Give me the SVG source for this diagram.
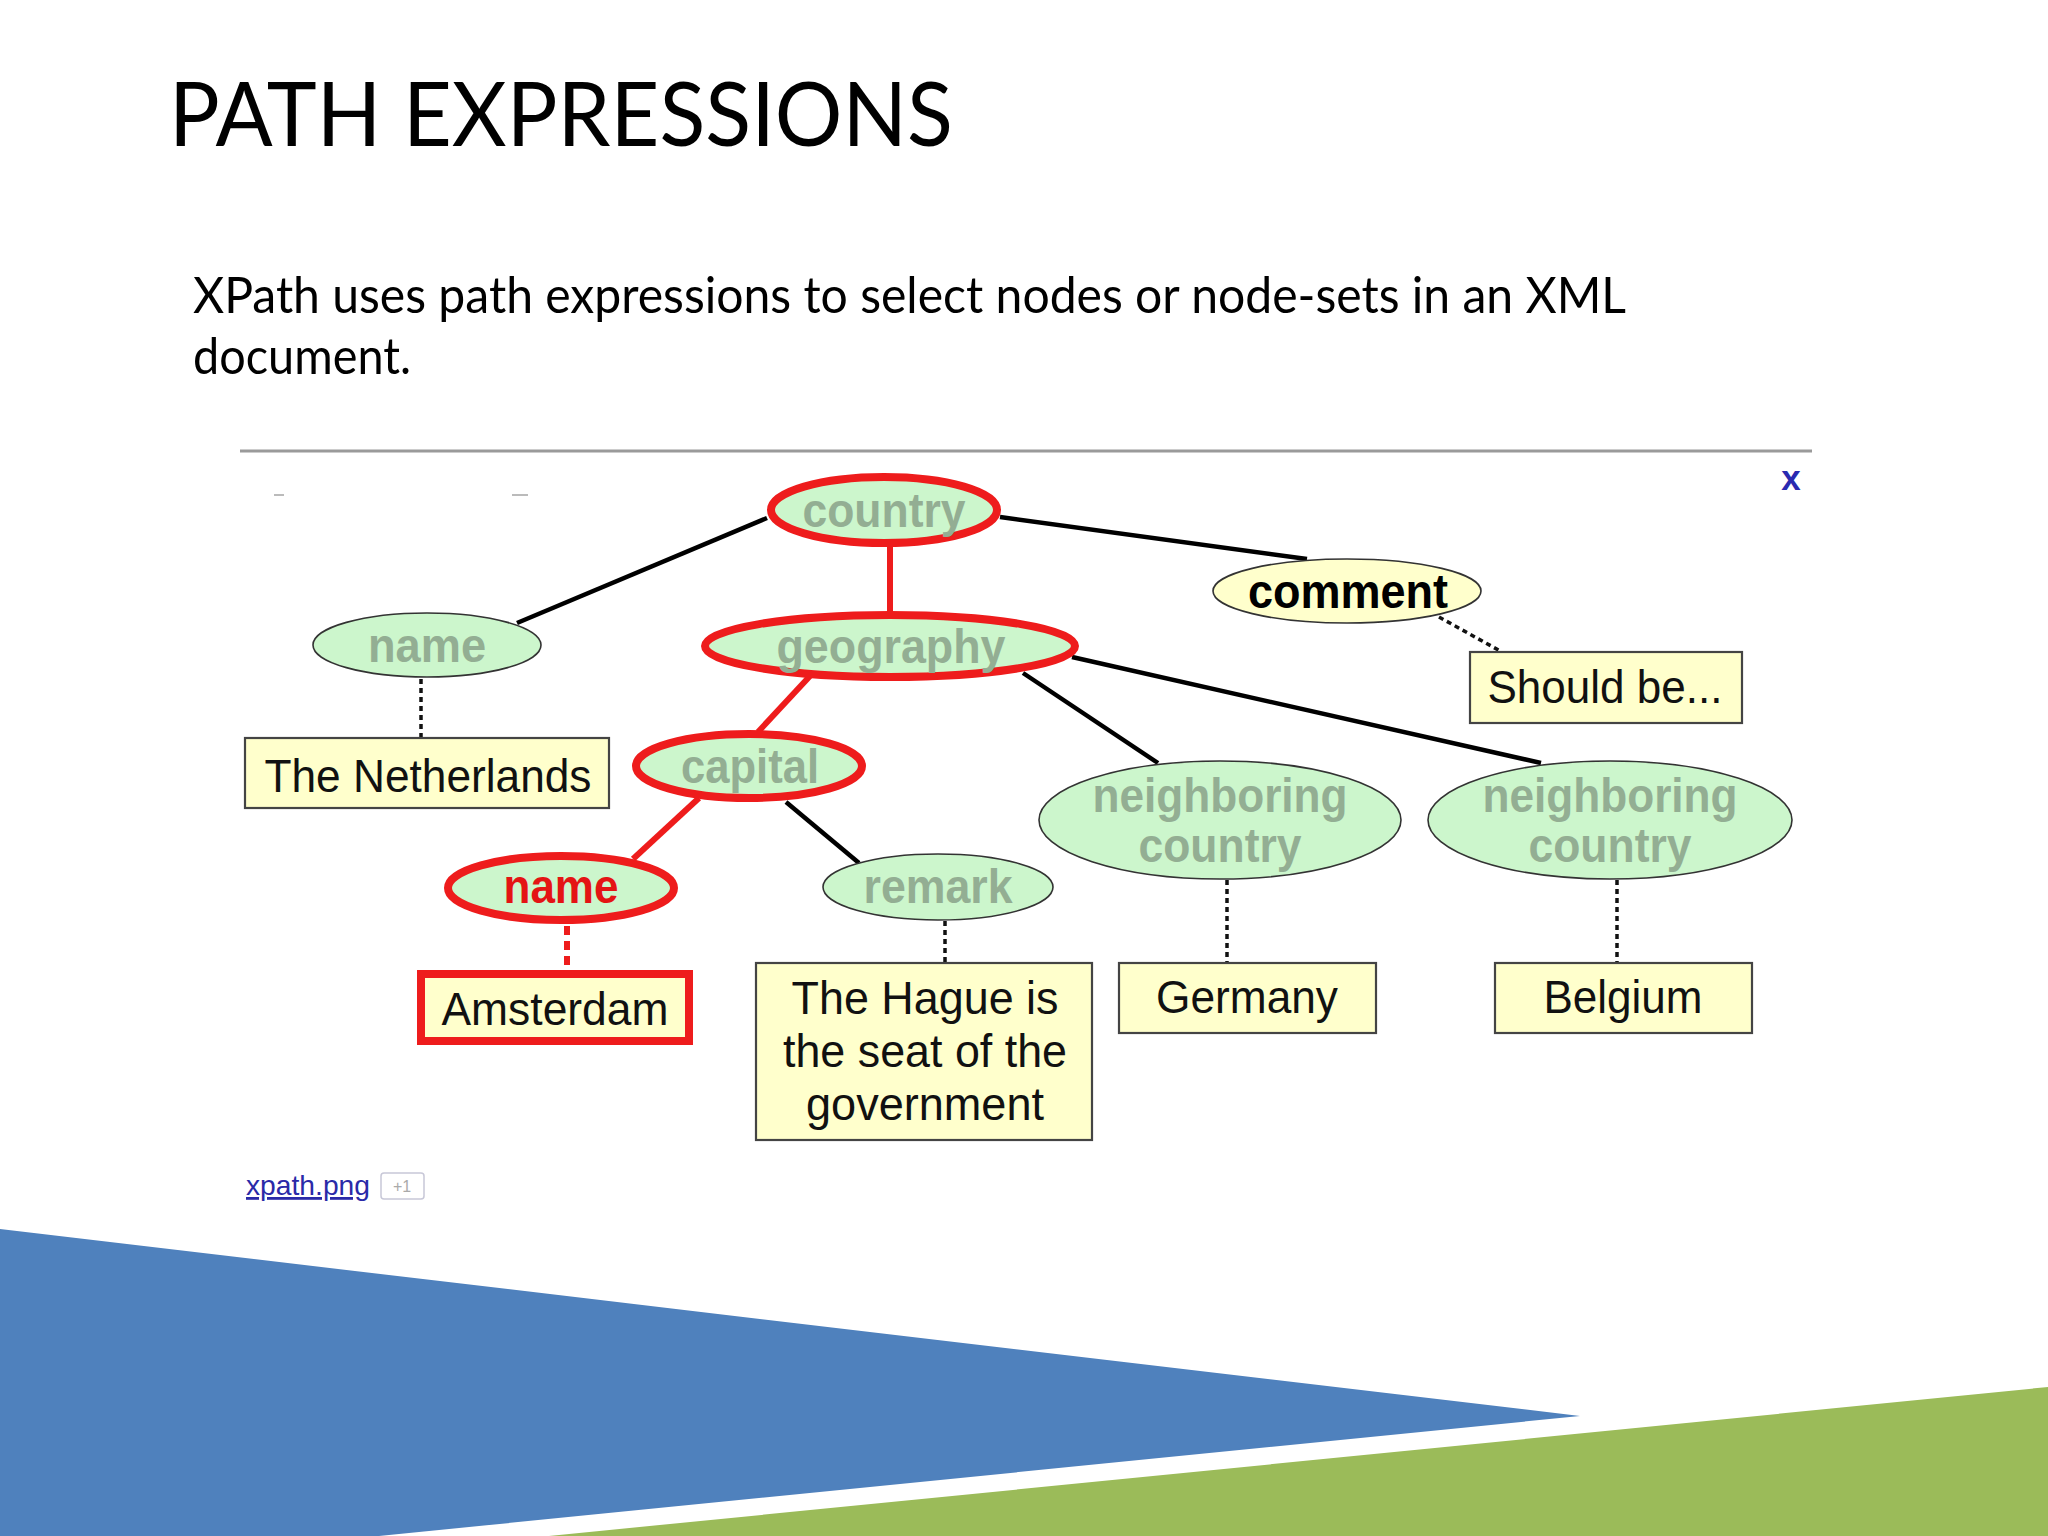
<svg xmlns="http://www.w3.org/2000/svg" width="2048" height="1536" viewBox="0 0 2048 1536">
<defs>
<style>
.title{font-family:Lato,"Liberation Sans",sans-serif;fill:#000}
.ell{fill:#ccf6cc;stroke:#333;stroke-width:1.6}
.sel{fill:#ccf6cc;stroke:#ee1c1c;stroke-width:8}
.cmt{fill:#ffffcc;stroke:#333;stroke-width:1.6}
.lbl{font-family:"Liberation Sans",Arial,sans-serif;font-weight:bold;font-size:48px;fill:#93ae93;text-anchor:middle}
.lblr{font-family:"Liberation Sans",Arial,sans-serif;font-weight:bold;font-size:48px;fill:#e41414;text-anchor:middle}
.lblk{font-family:"Liberation Sans",Arial,sans-serif;font-weight:bold;font-size:48px;fill:#000;text-anchor:middle}
.box{fill:#ffffcc;stroke:#444;stroke-width:2.2}
.boxr{fill:#ffffcc;stroke:#ee1c1c;stroke-width:8}
.btxt{font-family:"Liberation Sans",Arial,sans-serif;font-size:46px;fill:#111;text-anchor:middle}
.edge{stroke:#000;stroke-width:4.5;fill:none}
.edger{stroke:#ee1c1c;stroke-width:6;fill:none}
.dot{stroke:#111;stroke-width:3.5;stroke-dasharray:5 4;fill:none}
.dotr{stroke:#ee1c1c;stroke-width:6;stroke-dasharray:9 6;fill:none}
</style>
</defs>
<rect x="0" y="0" width="2048" height="1536" fill="#fff"/>

<g id="slide-title">
<text class="title" x="169" y="146" font-size="90" textLength="784" lengthAdjust="spacingAndGlyphs">PATH EXPRESSIONS</text>
<text class="title" x="193" y="313" font-size="50" textLength="1433" lengthAdjust="spacingAndGlyphs">XPath uses path expressions to select nodes or node-sets in an XML</text>
<text class="title" x="193" y="374" font-size="50" textLength="218" lengthAdjust="spacingAndGlyphs">document.</text>
</g>

<g id="frame">
<line x1="240" y1="451" x2="1812" y2="451" stroke="#9a9a9a" stroke-width="3"/>
<line x1="274" y1="495" x2="284" y2="495" stroke="#bbb" stroke-width="2"/>
<line x1="512" y1="495" x2="528" y2="495" stroke="#bbb" stroke-width="2"/>
<text x="1791" y="490" font-family="Liberation Sans,Arial,sans-serif" font-weight="bold" font-size="35" fill="#2a2ab0" text-anchor="middle">x</text>
</g>

<g id="connectors">
<line class="edge" x1="767" y1="518" x2="517" y2="623"/>
<line class="edger" x1="890" y1="545" x2="890" y2="614"/>
<line class="edge" x1="1000" y1="517" x2="1307" y2="559"/>
<line class="edger" x1="810" y1="676" x2="758" y2="732"/>
<line class="edge" x1="1023" y1="673" x2="1158" y2="763"/>
<line class="edge" x1="1072" y1="657" x2="1541" y2="763"/>
<line class="edger" x1="699" y1="798" x2="633" y2="859"/>
<line class="edge" x1="786" y1="802" x2="859" y2="863"/>
<line class="dot" x1="421" y1="679" x2="421" y2="737"/>
<line class="dotr" x1="567" y1="926" x2="567" y2="966"/>
<line class="dot" x1="945" y1="921" x2="945" y2="962"/>
<line class="dot" x1="1439" y1="617" x2="1502" y2="652"/>
<line class="dot" x1="1227" y1="880" x2="1227" y2="962"/>
<line class="dot" x1="1617" y1="880" x2="1617" y2="962"/>
</g>

<g id="node-country">
<ellipse class="sel" cx="884" cy="510" rx="113" ry="33"/>
<text class="lbl" x="884" y="527" textLength="163" lengthAdjust="spacingAndGlyphs">country</text>
</g>
<g id="node-name">
<ellipse class="ell" cx="427" cy="645" rx="114" ry="32"/>
<text class="lbl" x="427" y="662" textLength="118" lengthAdjust="spacingAndGlyphs">name</text>
</g>
<g id="node-geography">
<ellipse class="sel" cx="890" cy="646" rx="185" ry="31"/>
<text class="lbl" x="891" y="663" textLength="229" lengthAdjust="spacingAndGlyphs">geography</text>
</g>
<g id="node-comment">
<ellipse class="cmt" cx="1347" cy="591" rx="134" ry="32"/>
<text class="lblk" x="1348" y="608" textLength="200" lengthAdjust="spacingAndGlyphs">comment</text>
</g>
<g id="node-capital">
<ellipse class="sel" cx="749" cy="766" rx="113" ry="32"/>
<text class="lbl" x="750" y="783" textLength="138" lengthAdjust="spacingAndGlyphs">capital</text>
</g>
<g id="node-name-capital">
<ellipse class="sel" cx="561" cy="888" rx="113" ry="32"/>
<text class="lblr" x="561" y="903" textLength="115" lengthAdjust="spacingAndGlyphs">name</text>
</g>
<g id="node-remark">
<ellipse class="ell" cx="938" cy="887" rx="115" ry="33"/>
<text class="lbl" x="938" y="903" textLength="149" lengthAdjust="spacingAndGlyphs">remark</text>
</g>
<g id="node-neighboring-1">
<ellipse class="ell" cx="1220" cy="820" rx="181" ry="59"/>
<text class="lbl" x="1220" y="812" textLength="255" lengthAdjust="spacingAndGlyphs">neighboring</text>
<text class="lbl" x="1220" y="862" textLength="163" lengthAdjust="spacingAndGlyphs">country</text>
</g>
<g id="node-neighboring-2">
<ellipse class="ell" cx="1610" cy="820" rx="182" ry="59"/>
<text class="lbl" x="1610" y="812" textLength="255" lengthAdjust="spacingAndGlyphs">neighboring</text>
<text class="lbl" x="1610" y="862" textLength="163" lengthAdjust="spacingAndGlyphs">country</text>
</g>

<g id="text-netherlands">
<rect class="box" x="245" y="738" width="364" height="70"/>
<text class="btxt" x="428" y="792" textLength="327" lengthAdjust="spacingAndGlyphs">The Netherlands</text>
</g>
<g id="text-should-be">
<rect class="box" x="1470" y="652" width="272" height="71"/>
<text class="btxt" x="1605" y="703" textLength="235" lengthAdjust="spacingAndGlyphs">Should be...</text>
</g>
<g id="text-amsterdam">
<rect class="boxr" x="421" y="974" width="268" height="67"/>
<text class="btxt" x="555" y="1025" textLength="227" lengthAdjust="spacingAndGlyphs">Amsterdam</text>
</g>
<g id="text-hague">
<rect class="box" x="756" y="963" width="336" height="177"/>
<text class="btxt" x="925" y="1014" textLength="267" lengthAdjust="spacingAndGlyphs">The Hague is</text>
<text class="btxt" x="925" y="1067" textLength="284" lengthAdjust="spacingAndGlyphs">the seat of the</text>
<text class="btxt" x="925" y="1120" textLength="238" lengthAdjust="spacingAndGlyphs">government</text>
</g>
<g id="text-germany">
<rect class="box" x="1119" y="963" width="257" height="70"/>
<text class="btxt" x="1247" y="1013" textLength="182" lengthAdjust="spacingAndGlyphs">Germany</text>
</g>
<g id="text-belgium">
<rect class="box" x="1495" y="963" width="257" height="70"/>
<text class="btxt" x="1623" y="1013" textLength="159" lengthAdjust="spacingAndGlyphs">Belgium</text>
</g>

<g id="caption">
<text x="246" y="1195" font-family="Liberation Sans,Arial,sans-serif" font-size="28" fill="#2a2aa8" textLength="124" lengthAdjust="spacingAndGlyphs" text-decoration="underline">xpath.png</text>
<rect x="381" y="1173" width="43" height="26" rx="3" fill="#fff" stroke="#c8c8d8" stroke-width="1.5"/>
<text x="402" y="1192" font-family="Liberation Sans,Arial,sans-serif" font-size="16" fill="#aaa" text-anchor="middle">+1</text>
</g>

<g id="decoration">
<polygon points="0,1229 1580,1416 379,1536 0,1536" fill="#4f81bd"/>
<polygon points="549,1536 2048,1387 2048,1536" fill="#9bbb59"/>
</g>
</svg>
